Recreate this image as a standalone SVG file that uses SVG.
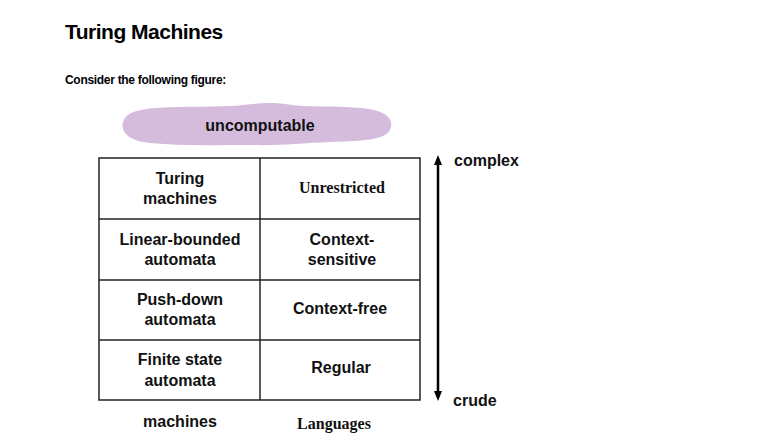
<svg xmlns="http://www.w3.org/2000/svg" width="784" height="441" viewBox="0 0 784 441">
<style>
.s{font-family:"Liberation Sans",Arial,sans-serif;font-size:16px;text-anchor:middle;fill:#111;font-weight:bold}
.r{font-family:"Liberation Serif","Times New Roman",serif;font-size:16px;text-anchor:middle;fill:#111;font-weight:bold}
.ln{stroke:#222;stroke-width:1.5;fill:none}
</style>
<defs><marker id="ah" viewBox="0 0 10 10" refX="5" refY="5" markerWidth="4" markerHeight="4" orient="auto-start-reverse"><path d="M0,1L10,5L0,9z" fill="#000"/></marker></defs>
<rect width="784" height="441" fill="#fff"/>
<text x="65" y="39" font-family="Liberation Sans,Arial,sans-serif" font-size="21" font-weight="bold" fill="#000" letter-spacing="-0.5">Turing Machines</text>
<text x="65" y="84" font-family="Liberation Sans,Arial,sans-serif" font-size="12" font-weight="bold" fill="#000" letter-spacing="-0.3">Consider the following figure:</text>
<g id="cloud"><path d="M125,118 C135,104 180,108 230,106 C250,105 265,101 285,104 C310,108 330,105 360,108 C385,110 395,118 390,130 C385,141 355,141 330,142 C300,143 280,146 250,145 C210,145 180,146 150,143 C125,141 118,128 125,118Z" fill="#d6bcdc"/>
<text class="s" x="260" y="131">uncomputable</text></g>
<g id="table">
<rect class="ln" x="99" y="158" width="321" height="242"/>
<line class="ln" x1="260" y1="158" x2="260" y2="400"/>
<line class="ln" x1="99" y1="219" x2="420" y2="219"/>
<line class="ln" x1="99" y1="280" x2="420" y2="280"/>
<line class="ln" x1="99" y1="340" x2="420" y2="340"/>
</g>
<g id="n1"><text class="s" x="180" y="184">Turing</text><text class="s" x="180" y="204">machines</text><text class="r" x="342" y="193">Unrestricted</text></g>
<g id="n2"><text class="s" x="180" y="245">Linear-bounded</text><text class="s" x="180" y="265">automata</text><text class="s" x="342" y="245">Context-</text><text class="s" x="342" y="265">sensitive</text></g>
<g id="n3"><text class="s" x="180" y="305">Push-down</text><text class="s" x="180" y="325">automata</text><text class="s" x="340" y="314">Context-free</text></g>
<g id="n4"><text class="s" x="180" y="365">Finite state</text><text class="s" x="180" y="386">automata</text><text class="s" x="341" y="373">Regular</text></g>
<text class="s" x="180" y="427">machines</text>
<text class="r" x="334" y="429">Languages</text>
<g id="connectors"><line x1="438" y1="160" x2="438" y2="396" stroke="#000" stroke-width="2.5" marker-start="url(#ah)" marker-end="url(#ah)"/></g>
<text class="s" x="454" y="166" style="text-anchor:start">complex</text>
<text class="s" x="453" y="406" style="text-anchor:start">crude</text>
</svg>
